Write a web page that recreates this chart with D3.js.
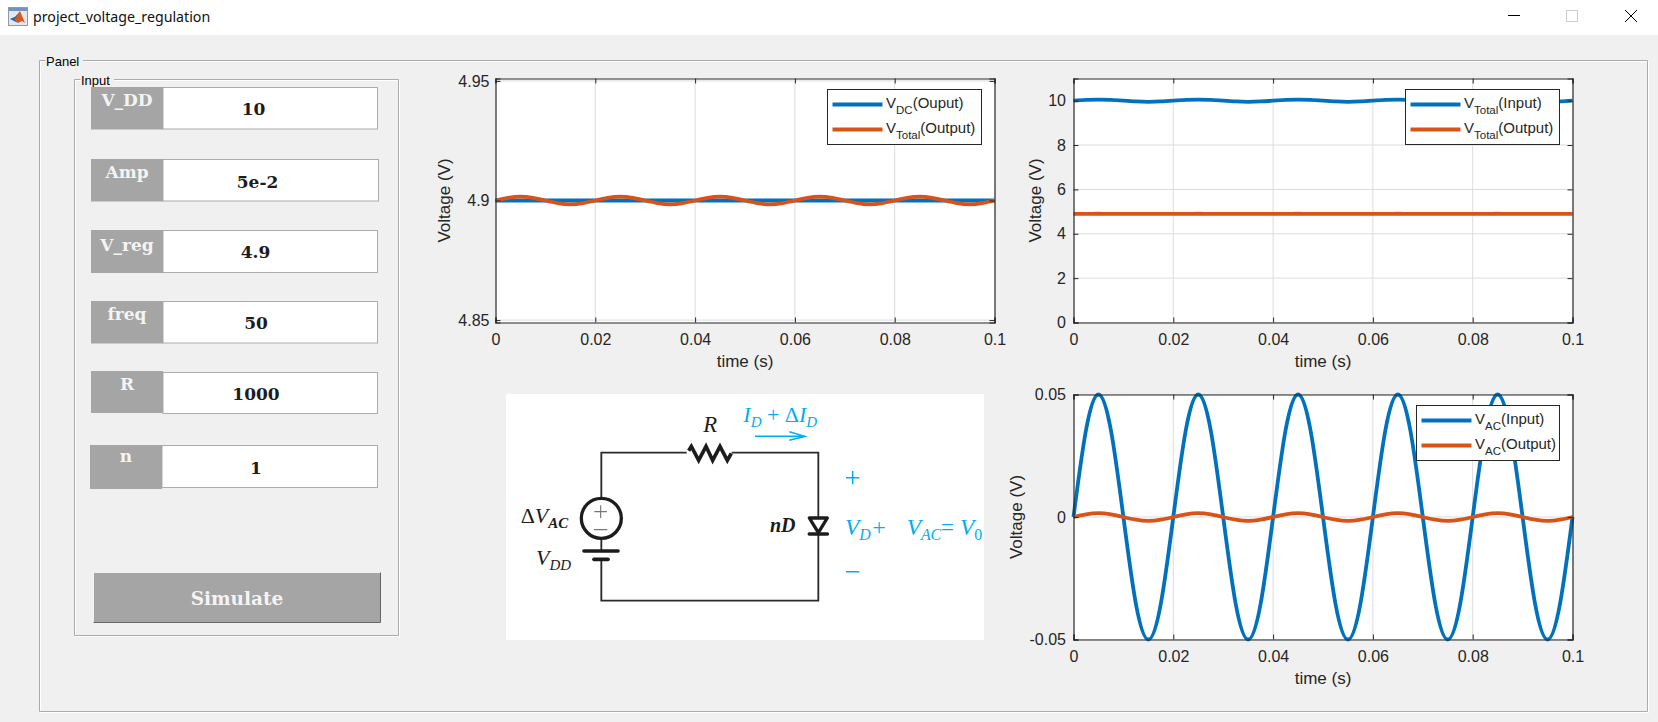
<!DOCTYPE html>
<html>
<head>
<meta charset="utf-8">
<title>project_voltage_regulation</title>
<script src="https://cdnjs.cloudflare.com/ajax/libs/d3/7.8.5/d3.min.js"></script>
<style>
  html, body { margin: 0; padding: 0; background: #f0f0f0; overflow: hidden; }
  svg { display: block; }
</style>
</head>
<body>
<div id="chart"></div>
<script>
// values, one point every 0.0025 s
const time = [0, 0.0025, 0.005, 0.0075, 0.01, 0.0125, 0.015, 0.0175, 0.02, 0.0225, 0.025, 0.0275, 0.03, 0.0325, 0.035, 0.0375, 0.04, 0.0425, 0.045, 0.0475, 0.05, 0.0525, 0.055, 0.0575, 0.06, 0.0625, 0.065, 0.0675, 0.07, 0.0725, 0.075, 0.0775, 0.08, 0.0825, 0.085, 0.0875, 0.09, 0.0925, 0.095, 0.0975, 0.1];
const vDcOutput = [4.9, 4.9, 4.9, 4.9, 4.9, 4.9, 4.9, 4.9, 4.9, 4.9, 4.9, 4.9, 4.9, 4.9, 4.9, 4.9, 4.9, 4.9, 4.9, 4.9, 4.9, 4.9, 4.9, 4.9, 4.9, 4.9, 4.9, 4.9, 4.9, 4.9, 4.9, 4.9, 4.9, 4.9, 4.9, 4.9, 4.9, 4.9, 4.9, 4.9, 4.9];
const vTotalOutput = [4.9, 4.9011, 4.9016, 4.9011, 4.9, 4.8989, 4.8984, 4.8989, 4.9, 4.9011, 4.9016, 4.9011, 4.9, 4.8989, 4.8984, 4.8989, 4.9, 4.9011, 4.9016, 4.9011, 4.9, 4.8989, 4.8984, 4.8989, 4.9, 4.9011, 4.9016, 4.9011, 4.9, 4.8989, 4.8984, 4.8989, 4.9, 4.9011, 4.9016, 4.9011, 4.9, 4.8989, 4.8984, 4.8989, 4.9];
const vTotalInput = [10, 10.035, 10.05, 10.035, 10, 9.965, 9.95, 9.965, 10, 10.035, 10.05, 10.035, 10, 9.965, 9.95, 9.965, 10, 10.035, 10.05, 10.035, 10, 9.965, 9.95, 9.965, 10, 10.035, 10.05, 10.035, 10, 9.965, 9.95, 9.965, 10, 10.035, 10.05, 10.035, 10, 9.965, 9.95, 9.965, 10];
const vAcInput = [0, 0.0354, 0.05, 0.0354, 0, -0.0354, -0.05, -0.0354, 0, 0.0354, 0.05, 0.0354, 0, -0.0354, -0.05, -0.0354, 0, 0.0354, 0.05, 0.0354, 0, -0.0354, -0.05, -0.0354, 0, 0.0354, 0.05, 0.0354, 0, -0.0354, -0.05, -0.0354, 0, 0.0354, 0.05, 0.0354, 0, -0.0354, -0.05, -0.0354, 0];
const vAcOutput = [0, 0.0011, 0.0016, 0.0011, 0, -0.0011, -0.0016, -0.0011, 0, 0.0011, 0.0016, 0.0011, 0, -0.0011, -0.0016, -0.0011, 0, 0.0011, 0.0016, 0.0011, 0, -0.0011, -0.0016, -0.0011, 0, 0.0011, 0.0016, 0.0011, 0, -0.0011, -0.0016, -0.0011, 0, 0.0011, 0.0016, 0.0011, 0, -0.0011, -0.0016, -0.0011, 0];

const timeTicks = [0, 0.02, 0.04, 0.06, 0.08, 0.1];
const dcTicks = [4.85, 4.9, 4.95];
const totalTicks = [0, 2, 4, 6, 8, 10];
const acTicks = [-0.05, 0, 0.05];

const inputNames = ['V_DD', 'Amp', 'V_reg', 'freq', 'R', 'n'];
const inputValues = ['10', '5e-2', '4.9', '50', '1000', '1'];

const BLUE = '#0072BD', ORANGE = '#D95319', INK = '#262626', CYAN = '#00AEEF';
const SANS = '"Liberation Sans", Arial, sans-serif';
const SERIF_BOLD = '"DejaVu Serif", serif';
const MATH = '"Liberation Serif", serif';
const LINE_W = 3.8;

const svg = d3.select('#chart').append('svg').attr('width', 1658).attr('height', 722);
svg.append('rect').attr('width', 1658).attr('height', 722).attr('fill', '#f0f0f0');

// --- window title bar ---
function drawTitleBar() {
  svg.append('rect').attr('width', 1658).attr('height', 35).attr('fill', '#fff');
  const icon = svg.append('g');
  icon.append('rect').attr('x', 8.5).attr('y', 7.5).attr('width', 19).attr('height', 18).attr('fill', '#e4e8ee').attr('stroke', '#8f9aa8');
  icon.append('rect').attr('x', 9).attr('y', 8).attr('width', 18).attr('height', 3).attr('fill', '#6f93bd');
  icon.append('path').attr('d', 'M10 19L15 17L20 11L25 23L22 21L18 23L15 19Z').attr('fill', '#d9581c');
  icon.append('path').attr('d', 'M10 19L15 17L18 14L15 19L18 23Z').attr('fill', '#2a6aa8');
  svg.append('text').attr('x', 33).attr('y', 22).attr('font-family', '"Noto Sans", "Open Sans", sans-serif')
    .attr('font-size', 14.2).attr('fill', '#111').text('project_voltage_regulation');
  // min / max / close
  svg.append('path').attr('d', 'M1508 15.5H1520').attr('stroke', '#000').attr('stroke-width', 1);
  svg.append('rect').attr('x', 1566.5).attr('y', 10.5).attr('width', 11).attr('height', 11).attr('fill', 'none').attr('stroke', '#ccc');
  svg.append('path').attr('d', 'M1625 10L1637 22M1637 10L1625 22').attr('stroke', '#000').attr('stroke-width', 1);
}

// etched uipanel frame, the title sits in a gap of the top edge
function drawPanel(x0, y0, x1, y1, gapFrom, gapTo, label) {
  const d = (dx) => `M${gapFrom + dx} ${y0 + dx}H${x0 + dx}V${y1 + dx}H${x1 + dx}V${y0 + dx}H${gapTo + dx}`;
  svg.append('path').attr('d', d(1)).attr('fill', 'none').attr('stroke', '#fff');
  svg.append('path').attr('d', d(0)).attr('fill', 'none').attr('stroke', '#ababab');
  svg.append('text').attr('x', gapFrom + 0.5).attr('y', y0 + 5).attr('font-family', SANS).attr('font-size', 13)
    .attr('fill', '#000').text(label);
}

// --- the input column ---
function drawInputs() {
  const rows = [
    { y0: 87, y1: 129.5, labelX: 91, labelBase: 105.5, valueX: 253.5, valueBase: 115, right: 377.5 },
    { y0: 159, y1: 201.5, labelX: 91, labelBase: 177.5, valueX: 257.5, valueBase: 187.5, right: 378.5 },
    { y0: 230, y1: 273, labelX: 91, labelBase: 250.5, valueX: 255.5, valueBase: 258, right: 377.5 },
    { y0: 301, y1: 343.5, labelX: 91, labelBase: 319.5, valueX: 256, valueBase: 329, right: 377.5 },
    { y0: 372, y1: 414, labelX: 91, labelBase: 389.5, valueX: 256, valueBase: 400, right: 377.5 },
    { y0: 445, y1: 488, labelX: 90, labelBase: 462, valueX: 256, valueBase: 473.5, right: 377.5 }
  ];
  inputNames.forEach((name, i) => {
    const r = rows[i];
    svg.append('rect').attr('x', r.labelX + 72).attr('y', r.y0 + 0.5).attr('width', r.right - r.labelX - 72).attr('height', r.y1 - r.y0 - 1)
      .attr('fill', '#fff').attr('stroke', '#ababb0');
    svg.append('rect').attr('x', r.labelX).attr('y', r.y0 - (i === 4 ? 1 : 0)).attr('width', 72).attr('height', r.y1 - r.y0 + (i === 5 ? 1 : 0))
      .attr('fill', '#a5a5a5');
    svg.append('text').attr('x', r.labelX + 36).attr('y', r.labelBase).attr('text-anchor', 'middle')
      .attr('font-family', SERIF_BOLD).attr('font-weight', 'bold').attr('font-size', 17).attr('fill', '#f4f4f4').text(name);
    svg.append('text').attr('x', r.valueX).attr('y', r.valueBase).attr('text-anchor', 'middle')
      .attr('font-family', SERIF_BOLD).attr('font-weight', 'bold').attr('font-size', 17).attr('fill', '#1c1c1c').text(inputValues[i]);
  });
  // Simulate button
  svg.append('rect').attr('x', 93.5).attr('y', 572.5).attr('width', 287).attr('height', 50).attr('fill', '#a5a5a5');
  svg.append('path').attr('d', 'M93.5 622.5V572.5H380.5').attr('fill', 'none').attr('stroke', '#f4f4f4');
  svg.append('path').attr('d', 'M93.5 622.5H380.5V572.5').attr('fill', 'none').attr('stroke', '#666');
  svg.append('text').attr('x', 237).attr('y', 605).attr('text-anchor', 'middle')
    .attr('font-family', SERIF_BOLD).attr('font-weight', 'bold').attr('font-size', 18.5).attr('fill', '#f4f4f4').text('Simulate');
}

// --- one axes with its legend ---
function drawPlot(cfg) {
  const w = cfg.right - cfg.left, h = cfg.bottom - cfg.top;
  const x = d3.scaleLinear().domain([0, 0.1]).range([0, w]);
  const y = d3.scaleLinear().domain(cfg.ylim).range([h, 0]);
  const g = svg.append('g').attr('transform', `translate(${cfg.left},${cfg.top})`);

  g.append('rect').attr('width', w).attr('height', h).attr('fill', '#fff');

  // grid
  g.selectAll('.gx').data(timeTicks.slice(1, -1)).enter().append('line').attr('class', 'gx')
    .attr('x1', d => x(d)).attr('x2', d => x(d)).attr('y1', 0).attr('y2', h).attr('stroke', '#dcdcdc');
  g.selectAll('.gy').data(cfg.yTicks).enter().append('line').attr('class', 'gy')
    .attr('x1', 0).attr('x2', w).attr('y1', d => y(d)).attr('y2', d => y(d)).attr('stroke', '#dcdcdc');

  // series
  const line = d3.line().x((d, i) => x(time[i])).y(d => y(d)).curve(d3.curveNatural);
  cfg.series.forEach(s => {
    g.append('path').datum(s.values).attr('d', line).attr('fill', 'none')
      .attr('stroke', s.color).attr('stroke-width', LINE_W);
  });

  // axes, matlab style: ticks inward on all four sides
  const xAxis = d3.axisBottom(x).tickValues(timeTicks).tickFormat(d => String(d)).tickSize(-5).tickPadding(11.5);
  const yAxis = d3.axisLeft(y).tickValues(cfg.yTicks).tickFormat(d => String(d)).tickSize(-5).tickPadding(cfg.yPad);
  const topAxis = d3.axisTop(x).tickValues(timeTicks).tickFormat('').tickSize(-5);
  const rightAxis = d3.axisRight(y).tickValues(cfg.yTicks).tickFormat('').tickSize(-5);
  g.append('g').attr('transform', `translate(0,${h})`).call(xAxis).call(styleAxis);
  g.append('g').call(yAxis).call(styleAxis);
  g.append('g').call(topAxis).call(styleAxis);
  g.append('g').attr('transform', `translate(${w},0)`).call(rightAxis).call(styleAxis);

  // axis labels
  svg.append('text').attr('x', (cfg.left + cfg.right) / 2).attr('y', cfg.bottom + 44.5).attr('text-anchor', 'middle')
    .attr('font-family', SANS).attr('font-size', 17).attr('fill', INK).text('time (s)');
  svg.append('text').attr('transform', `translate(${cfg.yLabelX},${(cfg.top + cfg.bottom) / 2}) rotate(-90)`).attr('text-anchor', 'middle')
    .attr('font-family', SANS).attr('font-size', 17).attr('fill', INK).text('Voltage (V)');

  // legend
  const lg = cfg.legend;
  svg.append('rect').attr('x', lg.x0).attr('y', lg.y0).attr('width', lg.x1 - lg.x0).attr('height', 55)
    .attr('fill', '#fff').attr('stroke', INK).attr('stroke-width', 1);
  lg.entries.forEach((e, i) => {
    const ly = lg.y0 + 15 + i * 25;
    svg.append('line').attr('x1', lg.x0 + 5).attr('x2', lg.x0 + 5 + lg.sample).attr('y1', ly).attr('y2', ly)
      .attr('stroke', e.color).attr('stroke-width', LINE_W);
    const t = svg.append('text').attr('x', lg.x0 + 5 + lg.sample + 3.5).attr('y', ly + 3)
      .attr('font-family', SANS).attr('font-size', 15).attr('fill', INK);
    t.append('tspan').text('V');
    t.append('tspan').attr('font-size', 11.5).attr('dy', 6).text(e.sub);
    t.append('tspan').attr('dy', -6).text(e.rest);
  });
}

function styleAxis(sel) {
  sel.select('.domain').attr('stroke', INK).attr('stroke-width', 1.2);
  sel.selectAll('.tick line').attr('stroke', INK);
  sel.selectAll('.tick text').attr('font-family', SANS).attr('font-size', 16).attr('fill', INK);
}

// --- circuit picture, coordinates in 1/3 px inside its white box ---
function mathText(g, x, y, size, parts, fill) {
  const t = g.append('text').attr('x', x).attr('y', y).attr('font-family', MATH).attr('font-size', size).attr('fill', fill);
  let shift = 0;
  parts.forEach(p => {
    const want = p.sub ? size * 0.22 : 0;
    t.append('tspan').attr('dy', want - shift).attr('font-size', p.sub ? size * 0.68 : size)
      .attr('font-style', p.up ? 'normal' : 'italic').attr('font-weight', p.bold ? 'bold' : 'normal').text(p.s);
    shift = want;
  });
}

function drawCircuit() {
  svg.append('rect').attr('x', 506).attr('y', 394).attr('width', 478).attr('height', 246).attr('fill', '#fff');
  const g = svg.append('g').attr('transform', 'translate(490,380) scale(0.33333)');
  const wire = '#2a2a2a';
  g.append('path').attr('d', 'M334 352V218H590M725 218H985V415M985 465V662H334V535M334 478V513').attr('fill', 'none').attr('stroke', wire).attr('stroke-width', 5.5);
  // resistor
  g.append('path').attr('d', 'M596 212L604 199L626 241L648 199L668 241L690 199L712 241L724 220').attr('fill', 'none').attr('stroke', '#1c1c1c').attr('stroke-width', 11).attr('stroke-linejoin', 'miter');
  // source
  g.append('circle').attr('cx', 334).attr('cy', 415).attr('r', 60).attr('fill', '#fff').attr('stroke', '#1c1c1c').attr('stroke-width', 10);
  g.append('path').attr('d', 'M313 395H351M332 376V414M312 449H352').attr('stroke', '#777').attr('stroke-width', 3.5).attr('fill', 'none');
  // battery
  g.append('path').attr('d', 'M282 513H384').attr('stroke', '#1c1c1c').attr('stroke-width', 11).attr('stroke-linecap', 'round');
  g.append('path').attr('d', 'M312 538H354').attr('stroke', '#1c1c1c').attr('stroke-width', 11).attr('stroke-linecap', 'round');
  // diode
  g.append('path').attr('d', 'M958 414H1012L985 458Z').attr('fill', '#fff').attr('stroke', '#1c1c1c').attr('stroke-width', 10).attr('stroke-linejoin', 'round');
  g.append('path').attr('d', 'M958 462H1012').attr('stroke', '#1c1c1c').attr('stroke-width', 11).attr('stroke-linecap', 'round');
  // arrow and the +/- signs
  g.append('path').attr('d', 'M795 169H943M898 155L945 169L898 181').attr('fill', 'none').attr('stroke', CYAN).attr('stroke-width', 4.5);
  g.append('path').attr('d', 'M1068 293H1108M1088 273V313M1068 575H1108').attr('fill', 'none').attr('stroke', CYAN).attr('stroke-width', 4.5);

  mathText(g, 640, 155, 68, [{ s: 'R' }], '#1c1c1c');
  mathText(g, 92, 428, 66, [{ s: 'Δ', up: true }, { s: 'V' }, { s: 'AC', sub: true, bold: true }], '#1c1c1c');
  mathText(g, 138, 556, 66, [{ s: 'V' }, { s: 'DD', sub: true }], '#1c1c1c');
  mathText(g, 840, 456, 60, [{ s: 'nD', bold: true }], '#1c1c1c');
  mathText(g, 760, 125, 66, [{ s: 'I' }, { s: 'D', sub: true }, { s: ' + Δ', up: true }, { s: 'I' }, { s: 'D', sub: true }], CYAN);
  mathText(g, 1065, 466, 70, [{ s: 'V' }, { s: 'D', sub: true }], CYAN);
  mathText(g, 1147, 466, 72, [{ s: '+', up: true }], CYAN);
  mathText(g, 1250, 466, 70, [{ s: 'V' }, { s: 'AC', sub: true }], CYAN);
  mathText(g, 1352, 466, 70, [{ s: '=', up: true }], CYAN);
  mathText(g, 1410, 466, 70, [{ s: 'V' }, { s: '0', sub: true, up: true }], CYAN);
}

drawTitleBar();
drawPanel(39.5, 60.5, 1647.5, 711.5, 45.5, 83, 'Panel');
drawPanel(74.5, 79.5, 398.5, 635.5, 80.5, 114, 'Input');
drawInputs();
drawCircuit();

drawPlot({
  left: 495.5, right: 994.5, top: 78.5, bottom: 322.5, ylim: [4.849, 4.951], yTicks: dcTicks, yPad: 6, yLabelX: 449.5,
  series: [{ values: vDcOutput, color: BLUE }, { values: vTotalOutput, color: ORANGE }],
  legend: { x0: 827.5, x1: 981.5, y0: 89.5, sample: 50, entries: [
    { color: BLUE, sub: 'DC', rest: '(Ouput)' },
    { color: ORANGE, sub: 'Total', rest: '(Output)' }
  ] }
});
drawPlot({
  left: 1073.5, right: 1572.5, top: 78.5, bottom: 322.5, ylim: [0, 11], yTicks: totalTicks, yPad: 7.5, yLabelX: 1041,
  series: [{ values: vTotalInput, color: BLUE }, { values: vTotalOutput, color: ORANGE }],
  legend: { x0: 1405.5, x1: 1559.5, y0: 89.5, sample: 50, entries: [
    { color: BLUE, sub: 'Total', rest: '(Input)' },
    { color: ORANGE, sub: 'Total', rest: '(Output)' }
  ] }
});
drawPlot({
  left: 1073.5, right: 1572.5, top: 394.5, bottom: 639.5, ylim: [-0.05, 0.05], yTicks: acTicks, yPad: 7.5, yLabelX: 1022,
  series: [{ values: vAcInput, color: BLUE }, { values: vAcOutput, color: ORANGE }],
  legend: { x0: 1416.5, x1: 1559.5, y0: 405.5, sample: 50, entries: [
    { color: BLUE, sub: 'AC', rest: '(Input)' },
    { color: ORANGE, sub: 'AC', rest: '(Output)' }
  ] }
});
</script>
</body>
</html>
